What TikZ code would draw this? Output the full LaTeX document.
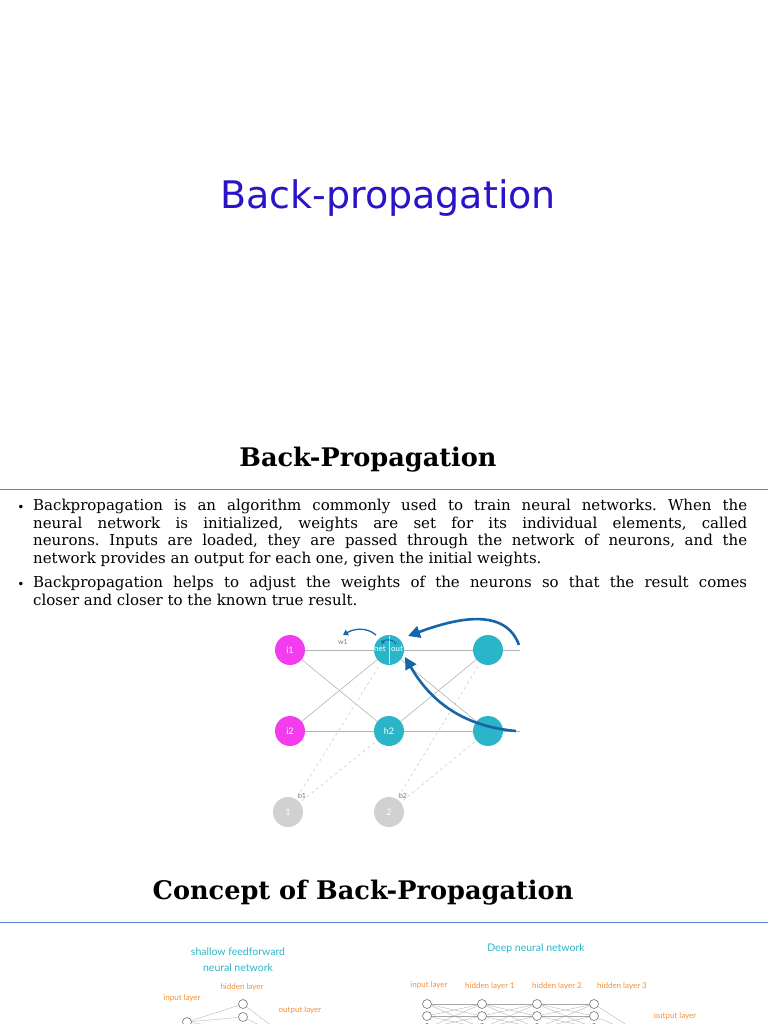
\documentclass[tikz,border=0pt]{standalone}
\usepackage{fontspec}
\setmainfont{DejaVu Serif}
\newfontfamily\dvs{DejaVu Sans}
\newfontfamily\lato{Lato}
\usetikzlibrary{arrows.meta,backgrounds}
\frenchspacing
\definecolor{titleblue}{HTML}{2A14C8}
\definecolor{rule}{HTML}{5B80D8}
\definecolor{mag}{HTML}{F23CEE}
\definecolor{teal}{HTML}{2BB5C8}
\definecolor{arr}{HTML}{1565A8}
\definecolor{orng}{HTML}{F0903A}
\tikzset{
 neuron/.style={circle,minimum size=30pt,inner sep=0pt,text=white,font=\lato\fontsize{9}{10}\selectfont},
 inn/.style={neuron,fill=mag},
 hid/.style={neuron,fill=teal},
 bias/.style={neuron,fill=black!18},
 wire/.style={draw=black!30,line width=0.6pt},
 dwire/.style={draw=black!22,dashed,line width=0.5pt},
 bigarr/.style={draw=arr,line width=2.6pt,-{Triangle[length=12pt,width=12pt]}},
 small/.style={font=\lato\fontsize{7}{8}\selectfont,text=black!55},
 dnode/.style={circle,draw=black!55,fill=white,minimum size=9pt,inner sep=0pt,line width=0.6pt},
 olab/.style={font=\lato\fontsize{8}{9}\selectfont,text=orng},
 clab/.style={font=\lato\fontsize{10.5}{16}\selectfont,text=teal,align=center},
 body/.style={anchor=north west,text width=714pt,align=justify,inner sep=0pt,font=\fontsize{15}{17.6}\selectfont}
}
\begin{document}
\begin{tikzpicture}[x=1pt,y=-1pt]
\useasboundingbox (0,0) rectangle (768,1024);
\node[text=titleblue,font=\dvs\fontsize{38}{44}\selectfont] (title) at (388,198) {Back-propagation};
\node[font=\bfseries\fontsize{25.6}{30}\selectfont] (h1t) at (368,460) {Back-Propagation};
\draw[rule,line width=0.8pt] (0,489) -- (768,489);
\node[body] (p1) at (33,499)
{Backpropagation is an algorithm commonly used to train neural networks. When the\linebreak neural network is initialized, weights are set for its individual elements, called\linebreak neurons. Inputs are loaded, they are passed through the network of neurons, and the\linebreak network provides an output for each one, given the initial weights.};
\node[font=\fontsize{12}{14}\selectfont] (bu1) at (21,508) {•};
\node[body] (p2) at (33,576)
{Backpropagation helps to adjust the weights of the neurons so that the result comes\linebreak closer and closer to the known true result.};
\node[font=\fontsize{12}{14}\selectfont] (bu2) at (21,585) {•};
% network
\node[inn] (i1) at (290,650) {i1};
\node[inn] (i2) at (290,731) {i2};
\node[hid] (hh1) at (389,650) {};
\node[hid] (hh2) at (389,731) {h2};
\node[hid] (o1) at (488,650) {};
\node[hid] (o2) at (488,731) {};
\node[bias] (b1) at (288,812) {1};
\node[bias] (b2) at (389,812) {2};
\coordinate (e1) at (520,650);
\coordinate (e2) at (520,731);
\begin{scope}[on background layer]
\foreach \a/\b in {i1/hh1,i1/hh2,i2/hh1,i2/hh2,hh1/o1,hh1/o2,hh2/o1,hh2/o2} \draw[wire] (\a.center) -- (\b.center);
\draw[wire] (o1.center) -- (e1);
\draw[wire] (o2.center) -- (e2);
\foreach \a/\b in {b1/hh1,b1/hh2,b2/o1,b2/o2} \draw[dwire] (\a.center) -- (\b.center);
\end{scope}
\draw[white!80!teal,line width=0.6pt] (389,636) -- (389,664);
\node[text=white,font=\lato\fontsize{8}{9}\selectfont] (net) at (380,649) {net};
\node[text=white,font=\lato\fontsize{8}{9}\selectfont] (out) at (397,649) {out};
\node[small] (w1) at (343,642) {w1};
\node[small] (lb1) at (302,796) {b1};
\node[small] (lb2) at (403,796) {b2};
\coordinate (s1) at (519,645);
\coordinate (t1) at (408,636);
\draw[bigarr] (s1) to[out=110,in=20] (t1);
\coordinate (s2) at (516,731);
\coordinate (t2) at (405,657);
\draw[bigarr] (s2) to[out=175,in=-60] (t2);
\coordinate (s3) at (376,635);
\coordinate (t3) at (343,635);
\draw[draw=arr,line width=1.3pt,-{Triangle[length=5pt,width=6pt]}] (s3) to[out=140,in=30] (t3);
\coordinate (s4) at (396,644);
\coordinate (t4) at (382,644);
\draw[draw=arr,line width=0.9pt,-{Triangle[length=3pt,width=4pt]}] (s4) to[out=110,in=70] (t4);
% second section
\node[font=\bfseries\fontsize{25.6}{30}\selectfont] (h2t) at (363,893) {Concept of Back-Propagation};
\draw[rule,line width=0.8pt] (0,922) -- (768,922);
\node[clab] (c1) at (238,960) {shallow feedforward\\neural network};
\node[clab] (c2) at (536,949) {Deep neural network};
\node[olab] (l1) at (182,998) {input layer};
\node[olab] (l2) at (242,987) {hidden layer};
\node[olab] (l3) at (300,1010) {output layer};
\node[olab] (l4) at (429,985) {input layer};
\node[olab] (l5) at (490,986) {hidden layer 1};
\node[olab] (l6) at (557,986) {hidden layer 2};
\node[olab] (l7) at (622,986) {hidden layer 3};
\node[olab] (l8) at (675,1016) {output layer};
\begin{scope}
\clip (0,924) rectangle (768,1024);
\foreach \y in {1004,1017,1030} \draw[black!35,line width=0.3pt] (187,1022) -- (243,\y);
\foreach \y in {1004,1017,1030} \draw[black!35,line width=0.3pt] (243,\y) -- (290,1040);
\foreach \y in {1004,1017,1030} \node[dnode] at (243,\y) {};
\node[dnode] (sn) at (187,1022) {};
\foreach \xa/\xb in {427/482,482/537,537/594} {
 \foreach \ya in {1004,1016,1028} \foreach \yb in {1004,1016,1028} \draw[black!35,line width=0.3pt] (\xa,\ya) -- (\xb,\yb);}
\foreach \y in {1004,1016,1028} \draw[black!35,line width=0.3pt] (594,\y) -- (650,1040);
\foreach \x in {427,482,537,594} \foreach \y in {1004,1016,1028} \node[dnode] at (\x,\y) {};
\end{scope}
\end{tikzpicture}
\end{document}
